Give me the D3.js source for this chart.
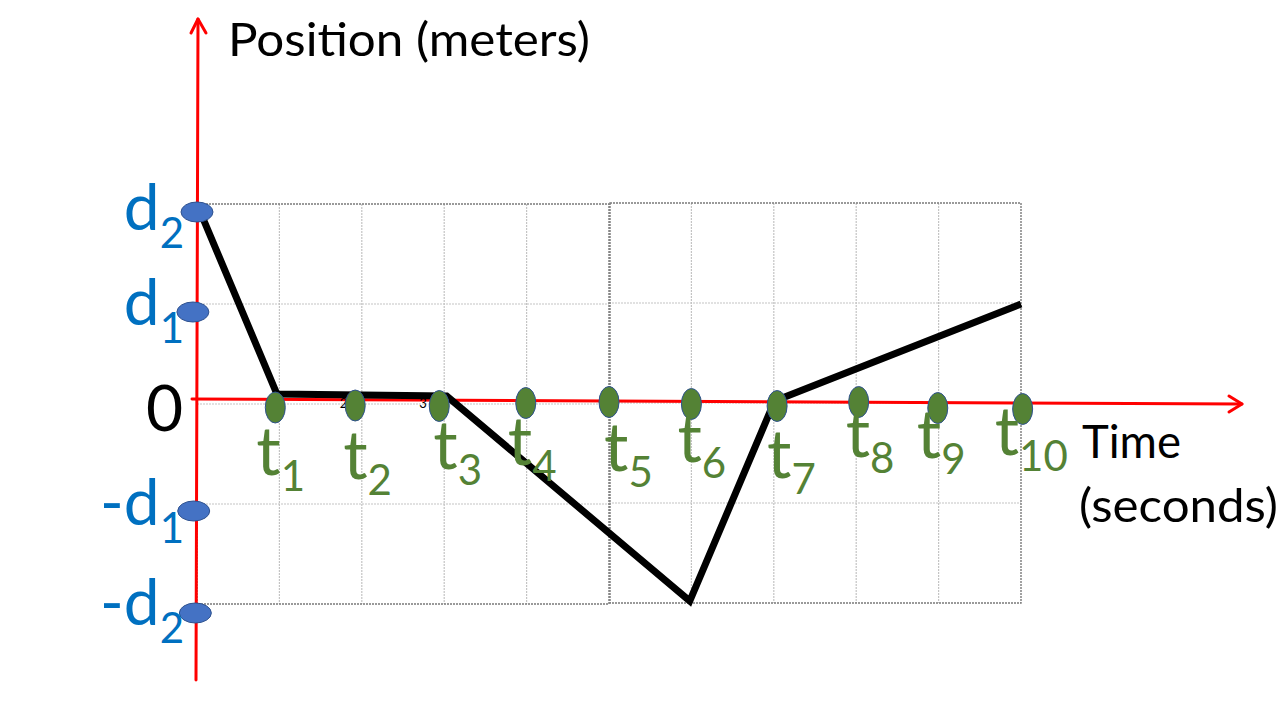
<!DOCTYPE html>
<html><head><meta charset="utf-8">
<script src="https://cdn.jsdelivr.net/npm/d3@7"></script>
<style>body{margin:0;background:#fff} svg{display:block}</style>
</head><body><svg id="c" width="1280" height="720"></svg>
<script>
// ---- data (position unit = one grid row, d1 = 1, d2 = 2) ----
const timeTicks = [0, 1, 2, 3, 4, 5, 6, 7, 8, 9, 10];
const positionTicks = [-2, -1, 0, 1, 2];
const pathTime = [0.04, 0.97, 3.03, 5.98, 7.01, 10.0];
const pathPosition = [1.92, 0.10, 0.08, -1.97, 0.03, 1.0];
const tLabels = ["1", "2", "3", "4", "5", "6", "7", "8", "9", "10"];
const tMarkerTime = [0.95, 1.92, 2.94, 3.99, 5.0, 6.0, 7.04, 8.03, 8.99, 10.02];
const tMarkerPosition = [-0.035, -0.015, -0.02, 0.01, 0.02, 0, -0.02, 0.02, -0.04, -0.05];
const dLabelSign = ["", "", "-", "-"];
const dLabelSub = ["2", "1", "1", "2"];
const dLevels = [2, 1, -1, -2];
const dMarkerTime = [0, -0.05, -0.04, -0.02];
const dMarkerPosition = [1.92, 0.92, -1.07, -2.09];
const strayTickText = ["2", "3"];
const strayTickTime = [2, 3];
const yTitle = "Position (meters)";
const xTitle1 = "Time";
const xTitle2 = "(seconds)";

// ---- layout (pixels) ----
const tLabelDx = [-19, -12, -6, -18, -5, -14, -10, -13, -21, -28];
const tLabelDy = [71, 75, 65, 61, 67, 58, 74, 53, 54, 51];
const dLabelDy = [26, 21, 21, 21];

const svg = d3.select("#c");
const x = d3.scaleLinear().domain([0, 10]).range([197, 1021]);
const y = d3.scaleLinear().domain([-2, 2]).range([604, 204]);

const FONT = "Lato, 'Open Sans', sans-serif";
const GREEN = "#548235", BLUE_TXT = "#0070C0", RED = "#FF0000";

// ---- grid: two boxes ----
const g = svg.append("g");
const boxes = [[0, 5, 0], [5, 10, -1]];
boxes.forEach(([a, b, off]) => {
  const gx = timeTicks.filter(t => t > a && t < b);
  g.selectAll(null).data(gx).enter().append("line")
    .attr("x1", d => x(d)).attr("x2", d => x(d))
    .attr("y1", y(2) + off).attr("y2", y(-2) + off)
    .attr("stroke", "#c4c4c4").attr("stroke-width", 1.2).attr("stroke-dasharray", "2,1");
  const gy = positionTicks.filter(p => p > -2 && p < 2);
  g.selectAll(null).data(gy).enter().append("line")
    .attr("x1", x(a)).attr("x2", x(b))
    .attr("y1", d => y(d) + off).attr("y2", d => y(d) + off)
    .attr("stroke", "#c4c4c4").attr("stroke-width", 1.2).attr("stroke-dasharray", "2,1");
  g.append("rect").attr("x", x(a) + (off ? 1 : 0)).attr("y", y(2) + off)
    .attr("width", x(b) - x(a) - (off ? 1 : 0)).attr("height", y(-2) - y(2))
    .attr("fill", "none").attr("stroke", "#7a7a7a").attr("stroke-width", 1.4)
    .attr("stroke-dasharray", "2,1");
});

// ---- red axes ----
const ax = svg.append("g").attr("stroke", RED).attr("stroke-width", 3).attr("fill", "none")
  .attr("stroke-linecap", "round").attr("stroke-linejoin", "round");
ax.append("line").attr("x1", 196).attr("y1", 680).attr("x2", 198).attr("y2", 19);
ax.append("path").attr("d", "M191,33 L198,19 L206,33");
ax.append("line").attr("x1", 192).attr("y1", 399).attr("x2", 1242).attr("y2", 404);
ax.append("path").attr("d", "M1229,396 L1242,404 L1229,412");

// ---- stray tiny tick text ----
svg.selectAll(null).data(strayTickText).enter().append("text")
  .attr("x", (d, i) => x(strayTickTime[i]) - 22 - i * 3).attr("y", 408)
  .attr("font-family", FONT).attr("font-size", 13).attr("fill", "#000").text(d => d);

// ---- black position line ----
const pts = pathTime.map((t, i) => [t, pathPosition[i]]);
svg.append("path").datum(pts)
  .attr("d", d3.line().x(d => x(d[0])).y(d => y(d[1])))
  .attr("fill", "none").attr("stroke", "#000").attr("stroke-width", 7)
  .attr("stroke-linejoin", "miter");

// ---- markers ----
svg.selectAll(null).data(tMarkerTime).enter().append("ellipse")
  .attr("cx", d => x(d)).attr("cy", (d, i) => y(tMarkerPosition[i]))
  .attr("rx", 10).attr("ry", 15.5)
  .attr("fill", GREEN).attr("stroke", "#2F528F").attr("stroke-width", 1);
svg.selectAll(null).data(dMarkerPosition).enter().append("ellipse")
  .attr("cx", (d, i) => x(dMarkerTime[i])).attr("cy", d => y(d))
  .attr("rx", 16).attr("ry", 10)
  .attr("fill", "#4472C4").attr("stroke", "#2F528F").attr("stroke-width", 1);

// ---- t labels ----
tLabels.forEach((lab, i) => {
  const tx = svg.append("text")
    .attr("x", x(tMarkerTime[i]) + tLabelDx[i]).attr("y", y(0) + tLabelDy[i])
    .attr("font-family", FONT).attr("fill", GREEN);
  tx.append("tspan").attr("font-size", 68).text("t");
  tx.append("tspan").attr("font-size", 42).attr("dy", 16).text(lab);
});

// ---- d labels ----
dLevels.forEach((lv, i) => {
  const tx = svg.append("text")
    .attr("x", 184).attr("y", y(lv) + dLabelDy[i])
    .attr("text-anchor", "end").attr("font-family", FONT).attr("fill", BLUE_TXT);
  tx.append("tspan").attr("font-size", 64).text(dLabelSign[i] + "d");
  tx.append("tspan").attr("font-size", 42).attr("dy", 18).text(dLabelSub[i]);
});
svg.append("text").attr("x", 183).attr("y", y(0) + 27).attr("text-anchor", "end")
  .attr("font-family", FONT).attr("font-size", 64).attr("fill", "#000").text("0");

// ---- titles ----
svg.append("text").attr("x", 228).attr("y", 56).attr("font-family", FONT).attr("font-size", 47)
  .attr("textLength", 362).attr("lengthAdjust", "spacingAndGlyphs").text(yTitle);
svg.append("text").attr("x", 1082).attr("y", 458).attr("font-family", FONT).attr("font-size", 47)
  .attr("textLength", 99).attr("lengthAdjust", "spacingAndGlyphs").text(xTitle1);
svg.append("text").attr("x", 1079).attr("y", 522).attr("font-family", FONT).attr("font-size", 47)
  .attr("textLength", 199).attr("lengthAdjust", "spacingAndGlyphs").text(xTitle2);
</script></body></html>
